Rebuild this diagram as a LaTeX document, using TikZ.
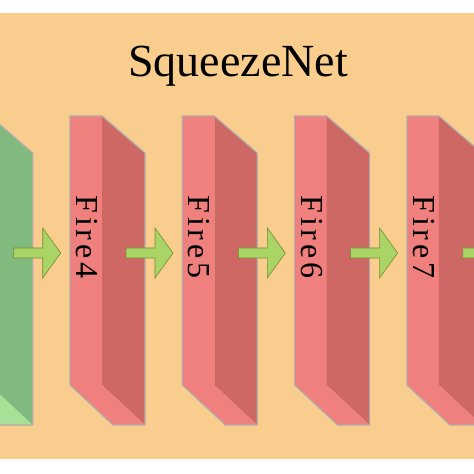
\documentclass[tikz,border=0pt]{standalone}
\usepackage{fontspec}
\setmainfont{Liberation Serif}
\usetikzlibrary{calc}
\definecolor{bgorange}{RGB}{249,205,142}
\definecolor{firefront}{RGB}{240,128,126}
\definecolor{fireside}{RGB}{205,104,101}
\definecolor{convfront}{RGB}{140,200,135}
\definecolor{convside}{RGB}{128,186,126}
\definecolor{convbottom}{RGB}{165,225,150}
\definecolor{arrowfill}{RGB}{170,212,102}
\definecolor{arrowline}{RGB}{118,140,48}
\definecolor{edgegray}{RGB}{178,172,172}

\begin{document}
\begin{tikzpicture}[x=1pt,y=1pt,
  rim/.style={draw=edgegray,line width=1.2pt,line join=round},
  flow/.style={fill=arrowfill,draw=arrowline,line width=0.6pt,line join=miter},
  firelbl/.style={rotate=-90,inner sep=0pt,
    font=\fontsize{32}{38}\selectfont\addfontfeature{LetterSpace=12}}]
 \useasboundingbox (0,0) rectangle (474,474);
 \clip (0,0) rectangle (474,474);
 \fill[white] (0,0) rectangle (474,474);
 \fill[bgorange] (0,15) rectangle (474,461);

 % title
 \node[anchor=base,font=\fontsize{46}{52}\selectfont] (title) at (238,397) {SqueezeNet};

 % blocks: -1 is the green conv block, 0..3 are fire modules
 \foreach \k/\fr/\sd/\bt in {-1/convfront/convside/convbottom,
     0/firefront/fireside/firefront, 1/firefront/fireside/firefront,
     2/firefront/fireside/firefront, 3/firefront/fireside/firefront}{
  \pgfmathsetmacro{\xo}{70+112.3*\k}
  \fill[\fr] (\xo,358) rectangle (\xo+32,89);
  \fill[\sd] (\xo+32,358)--(\xo+75,321)--(\xo+75,49)--(\xo+32,89)--cycle;
  \fill[\bt] (\xo,89)--(\xo+32,89)--(\xo+75,49)--(\xo+43,49)--cycle;
  \draw[rim] (\xo,358)--(\xo+32,358)--(\xo+75,321)--(\xo+75,49)--(\xo+43,49)--(\xo,89)--cycle;
 }

 % labels
 \foreach \k/\n in {0/4,1/5,2/6,3/7}{
  \pgfmathsetmacro{\xo}{70+112.3*\k}
  \node[firelbl] (fire\n) at (\xo+17,237) {Fire\n};
 }

 % arrows between blocks
 \foreach \k in {-1,0,1,2,3}{
  \pgfmathsetmacro{\xo}{70+112.3*\k}
  \draw[flow] (\xo+56,226)--(\xo+85,226)--(\xo+85,246)--(\xo+103,221)
   --(\xo+85,196)--(\xo+85,216)--(\xo+56,216)--cycle;
 }
\end{tikzpicture}
\end{document}
